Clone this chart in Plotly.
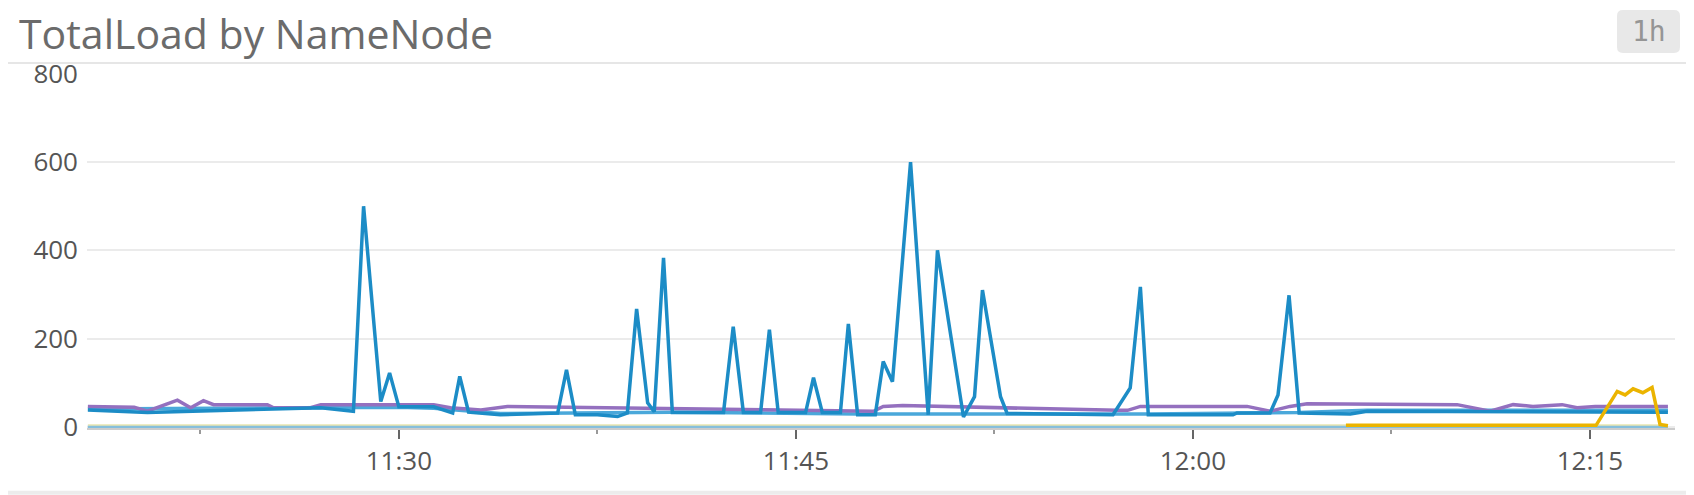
import plotly.graph_objects as go

# TotalLoad per NameNode host (timestamps on one day)
day = "2016-03-14 "

nn1_times = [
    "11:18:15", "11:20:30", "11:27:03", "11:28:17", "11:28:40", "11:29:19", "11:29:39",
    "11:30:00", "11:31:19", "11:32:02", "11:32:18", "11:32:38", "11:33:50", "11:36:00",
    "11:36:20", "11:36:40", "11:37:30", "11:38:16", "11:38:38", "11:38:59", "11:39:24",
    "11:39:39", "11:40:00", "11:40:20", "11:42:16", "11:42:38", "11:43:01", "11:43:40",
    "11:44:00", "11:44:20", "11:45:22", "11:45:40", "11:46:00", "11:46:41", "11:46:59",
    "11:47:20", "11:48:00", "11:48:18", "11:48:39", "11:49:20", "11:50:00", "11:50:21",
    "11:51:20", "11:51:45", "11:52:03", "11:52:44", "11:52:59", "11:56:59", "11:57:38",
    "11:58:01", "11:58:19", "12:01:31", "12:01:40", "12:02:55", "12:03:13", "12:03:38",
    "12:04:01", "12:05:57", "12:06:35", "12:17:57",
]
nn1_load = [
    38, 32, 43, 35, 500, 57, 122,
    45, 45, 31, 114, 33, 27, 31,
    129, 27, 27, 23, 31, 267, 54,
    34, 383, 32, 32, 227, 32, 32,
    220, 32, 32, 111, 32, 32, 233,
    27, 27, 148, 102, 600, 27, 400,
    22, 68, 310, 68, 30, 27, 88,
    317, 27, 27, 31, 31, 72, 298,
    31, 29, 35, 33,
]

nn2_times = ["11:18:15", "11:27:03", "11:30:00", "11:31:19", "11:33:50", "11:40:20",
             "11:47:20", "11:52:59", "11:58:19", "12:04:01", "12:06:35", "12:17:57"]
nn2_load = [40, 42, 44, 42, 30, 33, 29, 29, 29, 32, 37, 37]

nn3_times = [
    "11:18:15", "11:20:00", "11:20:30", "11:21:38", "11:22:08", "11:22:37", "11:23:00",
    "11:25:02", "11:25:16", "11:26:40", "11:27:03", "11:31:19", "11:31:57", "11:33:06",
    "11:34:06", "11:47:26", "11:47:56", "11:48:18", "11:49:02", "11:57:09", "11:57:32",
    "11:58:01", "12:02:03", "12:02:55", "12:03:40", "12:04:19", "12:09:59", "12:11:14",
    "12:12:06", "12:12:51", "12:13:57", "12:14:31", "12:15:12", "12:17:57",
]
nn3_load = [
    46, 44, 35, 60, 43, 59, 50,
    50, 43, 43, 50, 50, 43, 38,
    46, 35, 35, 46, 48, 37, 37,
    46, 46, 35, 46, 52, 50, 35,
    50, 46, 50, 43, 46, 46,
]

nn4_times = ["12:05:47", "12:15:14", "12:16:02", "12:16:20", "12:16:38", "12:17:00",
             "12:17:21", "12:17:39", "12:17:57"]
nn4_load = [3, 3, 80, 72, 86, 77, 89, 5, 2]

nn5_times = ["11:18:15", "12:17:57"]
nn5_load = [4, 4]

nn6_times = ["11:18:15", "12:17:57"]
nn6_load = [0, 0]

series = [
    ("nn6", nn6_times, nn6_load, "#86bfdc", 3.5),
    ("nn5", nn5_times, nn5_load, "#e8e6b0", 1.5),
    ("nn2", nn2_times, nn2_load, "#4aa8da", 3.5),
    ("nn3", nn3_times, nn3_load, "#9470bf", 3.5),
    ("nn1", nn1_times, nn1_load, "#1c8cc6", 3.5),
    ("nn4", nn4_times, nn4_load, "#ebb400", 3.5),
]

# the page body has an 8px margin, so the figure is drawn 8px in from the window corner
O = 8
W, H = 1694 - O, 495 - O
L, R, T, B = 87 - O, 1675 - O, 74 - O, 428.3 - O


def px(x):
    # window pixel -> paper x
    return (x - O - L) / (R - L)


def py(y):
    # window pixel -> paper y
    return (B - (y - O)) / (B - T)


fig = go.Figure()
for name, times, load, color, width in series:
    fig.add_trace(go.Scatter(
        x=[day + t for t in times], y=load, name=name, mode="lines",
        line=dict(color=color, width=width), showlegend=False,
    ))

tick_font = dict(family="Open Sans", size=26, color="#555555")
fig.update_xaxes(
    range=[day + "11:18:13", day + "12:18:13"],
    tickformat="%H:%M", dtick=15 * 60 * 1000, tick0=day + "11:30:00",
    ticks="outside", ticklen=9, tickwidth=1.5, tickcolor="#666666",
    minor=dict(dtick=7.5 * 60 * 1000, tick0=day + "11:22:30", ticks="outside",
               ticklen=4, tickcolor="#999999", showgrid=False),
    showgrid=False, showline=True, linecolor="#cccccc", linewidth=1.5,
    tickfont=tick_font, zeroline=False,
)
fig.update_yaxes(
    range=[-3, 800], tickvals=[0, 200, 400, 600, 800],
    showgrid=True, gridcolor="#ebebeb", gridwidth=2, zeroline=False,
    tickfont=tick_font, ticklabelstandoff=8,
)

shapes = [
    # header separator
    dict(type="line", xref="paper", yref="paper", x0=px(8), x1=px(1688), y0=py(63), y1=py(63),
         line=dict(color="#e6e6e6", width=2)),
    # panel right border
    dict(type="line", xref="paper", yref="paper", x0=px(1690), x1=px(1690), y0=py(8), y1=py(495),
         line=dict(color="#e3e3e3", width=2)),
    # bottom strip
    dict(type="rect", xref="paper", yref="paper", x0=px(8), x1=px(1694), y0=py(491), y1=py(495),
         fillcolor="#ececec", line=dict(width=0)),
]
# rounded "1h" badge
bx0, bx1, by0, by1, r = 1617, 1680, 10, 53, 6
path = (f"M {px(bx0 + r)},{py(by0)} L {px(bx1 - r)},{py(by0)} Q {px(bx1)},{py(by0)} {px(bx1)},{py(by0 + r)} "
        f"L {px(bx1)},{py(by1 - r)} Q {px(bx1)},{py(by1)} {px(bx1 - r)},{py(by1)} "
        f"L {px(bx0 + r)},{py(by1)} Q {px(bx0)},{py(by1)} {px(bx0)},{py(by1 - r)} "
        f"L {px(bx0)},{py(by0 + r)} Q {px(bx0)},{py(by0)} {px(bx0 + r)},{py(by0)} Z")
shapes.append(dict(type="path", xref="paper", yref="paper", path=path,
                   fillcolor="#e8e8e8", line=dict(width=0), layer="below"))

fig.update_layout(
    width=W, height=H,
    margin=dict(l=L, r=W - R, t=T, b=H - B, pad=0),
    paper_bgcolor="white", plot_bgcolor="white",
    title=dict(text="TotalLoad by NameNode", xref="container", x=(19 - O) / W, xanchor="left",
               yref="container", y=1 - (35 - O) / H, yanchor="middle",
               font=dict(family="Open Sans", size=41, color="#6b6b6b")),
    shapes=shapes,
    annotations=[dict(text="1h", xref="paper", yref="paper", x=px(1648.5), y=py(31),
                      xanchor="center", yanchor="middle", showarrow=False,
                      font=dict(family="DejaVu Sans Mono", size=28, color="#959595"))],
)

fig.write_html("out.html")
